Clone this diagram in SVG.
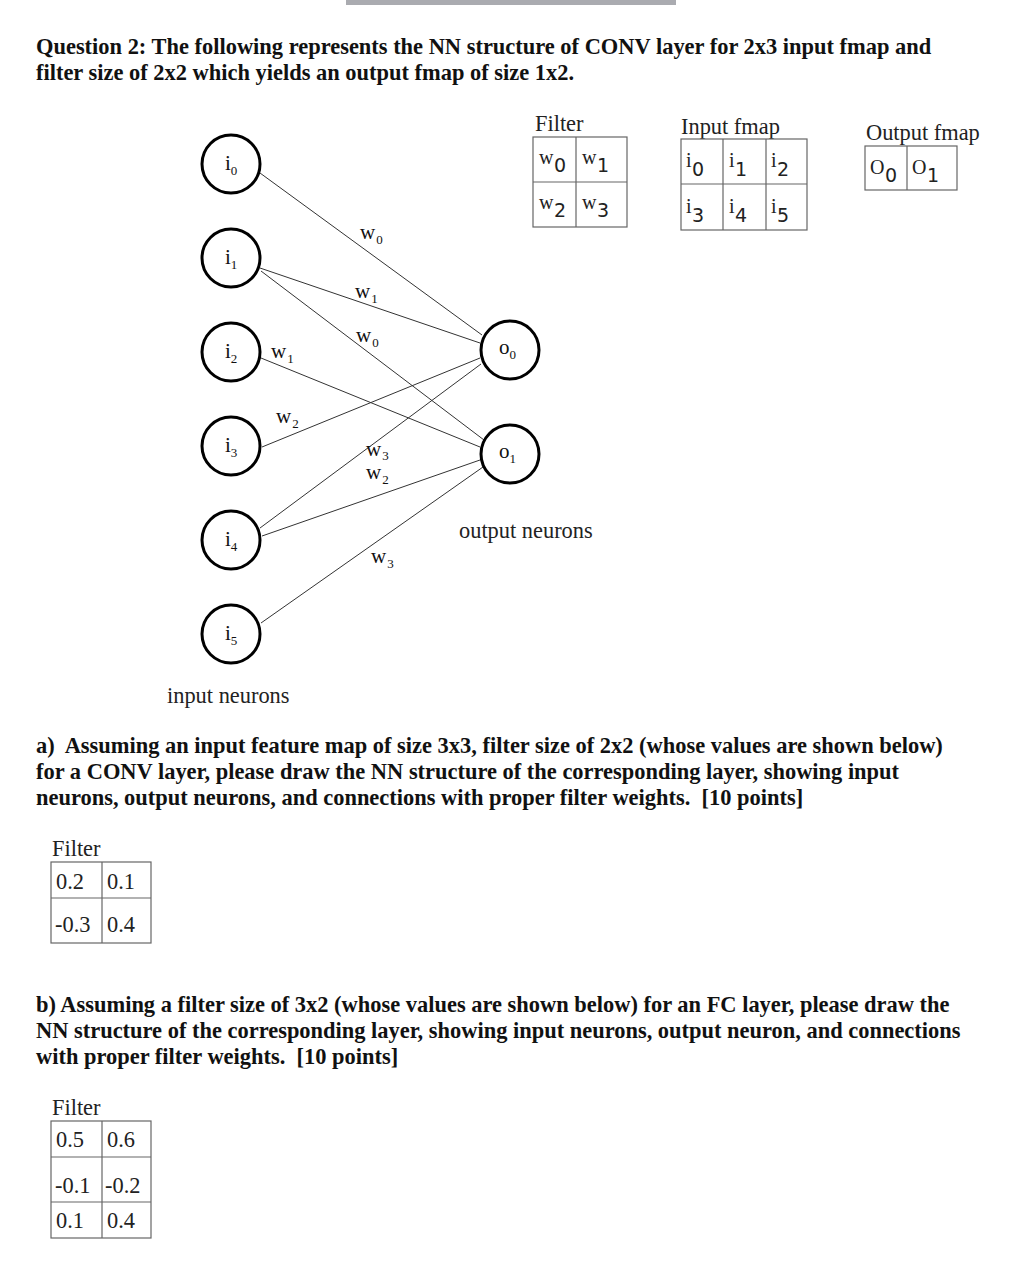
<svg xmlns="http://www.w3.org/2000/svg" width="1014" height="1283" viewBox="0 0 1014 1283">
<style>
.t{font-family:"Liberation Serif",serif;font-size:22.45px;font-weight:bold;fill:#111;white-space:pre}
.n{font-family:"Liberation Serif",serif;font-size:22.4px;fill:#222}
.lab{font-family:"Liberation Serif",serif;font-size:21px;fill:#111}
.sub{font-family:"Liberation Serif",serif;font-size:13px;fill:#111}
.cell{fill:none;stroke:#666;stroke-width:1.2}
.neuron{fill:#fff;stroke:#000;stroke-width:3}
.conn line{stroke:#333;stroke-width:1}
.tw{font-family:"Liberation Serif",serif;font-size:20px;fill:#222}
.td{font-family:"DejaVu Sans",sans-serif;font-size:19px;fill:#222}
</style>
<rect x="346" y="0" width="330" height="5" fill="#aaabb0"/>
<g id="title">
<text class="t" x="36" y="54">Question 2: The following represents the NN structure of CONV layer for 2x3 input fmap and</text>
<text class="t" x="36" y="80">filter size of 2x2 which yields an output fmap of size 1x2.</text>
</g>
<g class="conn" id="connectors">
<line x1="260" y1="173" x2="482" y2="335"/>
<line x1="260" y1="268" x2="480" y2="343"/>
<line x1="261" y1="271" x2="484" y2="440"/>
<line x1="261" y1="358" x2="480" y2="447"/>
<line x1="262" y1="447" x2="480" y2="358"/>
<line x1="260" y1="528" x2="481" y2="364"/>
<line x1="262" y1="536" x2="480" y2="460"/>
<line x1="261" y1="623" x2="483" y2="467"/>
</g>
<g id="weight-labels">
<text class="lab" x="360" y="239">w<tspan class="sub" dx="1" dy="5">0</tspan></text>
<text class="lab" x="355" y="298">w<tspan class="sub" dx="1" dy="5">1</tspan></text>
<text class="lab" x="356" y="342">w<tspan class="sub" dx="1" dy="5">0</tspan></text>
<text class="lab" x="271" y="358">w<tspan class="sub" dx="1" dy="5">1</tspan></text>
<text class="lab" x="276" y="423">w<tspan class="sub" dx="1" dy="5">2</tspan></text>
<text class="lab" x="366" y="456">w<tspan class="sub" dx="1" dy="4">3</tspan></text>
<text class="lab" x="366" y="479">w<tspan class="sub" dx="1" dy="5">2</tspan></text>
<text class="lab" x="371" y="563">w<tspan class="sub" dx="1" dy="5">3</tspan></text>
</g>
<g id="i0"><circle class="neuron" cx="231" cy="164" r="29"/><text class="lab" x="225" y="170">i<tspan class="sub" dy="5">0</tspan></text></g>
<g id="i1"><circle class="neuron" cx="231" cy="258" r="29"/><text class="lab" x="225" y="264">i<tspan class="sub" dy="5">1</tspan></text></g>
<g id="i2"><circle class="neuron" cx="231" cy="352" r="29"/><text class="lab" x="225" y="358">i<tspan class="sub" dy="5">2</tspan></text></g>
<g id="i3"><circle class="neuron" cx="231" cy="446" r="29"/><text class="lab" x="225" y="452">i<tspan class="sub" dy="5">3</tspan></text></g>
<g id="i4"><circle class="neuron" cx="231" cy="540" r="29"/><text class="lab" x="225" y="546">i<tspan class="sub" dy="5">4</tspan></text></g>
<g id="i5"><circle class="neuron" cx="231" cy="634" r="29"/><text class="lab" x="225" y="640">i<tspan class="sub" dy="5">5</tspan></text></g>
<g id="o0"><circle class="neuron" cx="510" cy="350" r="29"/><text class="lab" x="499" y="354">o<tspan class="sub" dy="5">0</tspan></text></g>
<g id="o1"><circle class="neuron" cx="510" cy="454" r="29"/><text class="lab" x="499" y="458">o<tspan class="sub" dy="5">1</tspan></text></g>
<text class="n" x="167" y="703">input neurons</text>
<text class="n" x="459" y="538">output neurons</text>
<g id="filter-table">
<text class="n" x="535" y="131">Filter</text>
<rect class="cell" x="533" y="137" width="94" height="90"/>
<line class="cell" x1="576" y1="137" x2="576" y2="227"/>
<line class="cell" x1="533" y1="182" x2="627" y2="182"/>
<text class="tw" x="539" y="164">w</text><text class="td" x="554" y="172">0</text>
<text class="tw" x="582" y="164">w</text><text class="td" x="597" y="172">1</text>
<text class="tw" x="539" y="209">w</text><text class="td" x="554" y="217">2</text>
<text class="tw" x="582" y="209">w</text><text class="td" x="597" y="217">3</text>
</g>
<g id="input-fmap">
<text class="n" x="681" y="134">Input fmap</text>
<rect class="cell" x="681" y="139" width="126" height="91"/>
<line class="cell" x1="723" y1="139" x2="723" y2="230"/>
<line class="cell" x1="766" y1="139" x2="766" y2="230"/>
<line class="cell" x1="681" y1="184" x2="807" y2="184"/>
<text class="tw" x="686" y="167">i</text><text class="td" x="692" y="176">0</text>
<text class="tw" x="729" y="167">i</text><text class="td" x="735" y="176">1</text>
<text class="tw" x="771" y="167">i</text><text class="td" x="777" y="176">2</text>
<text class="tw" x="686" y="213">i</text><text class="td" x="692" y="222">3</text>
<text class="tw" x="729" y="213">i</text><text class="td" x="735" y="222">4</text>
<text class="tw" x="771" y="213">i</text><text class="td" x="777" y="222">5</text>
</g>
<g id="output-fmap">
<text class="n" x="866" y="140">Output fmap</text>
<rect class="cell" x="865" y="146" width="92" height="44"/>
<line class="cell" x1="907" y1="146" x2="907" y2="190"/>
<text class="tw" x="870" y="174">O</text><text class="td" x="885" y="182">0</text>
<text class="tw" x="912" y="174">O</text><text class="td" x="927" y="182">1</text>
</g>
<g id="part-a">
<text class="t" x="36" y="753" xml:space="preserve">a)  Assuming an input feature map of size 3x3, filter size of 2x2 (whose values are shown below)</text>
<text class="t" x="36" y="779">for a CONV layer, please draw the NN structure of the corresponding layer, showing input</text>
<text class="t" x="36" y="805" xml:space="preserve">neurons, output neurons, and connections with proper filter weights.  [10 points]</text>
</g>
<g id="filter-a">
<text class="n" x="52" y="856">Filter</text>
<rect class="cell" x="51" y="862" width="100" height="81"/>
<line class="cell" x1="102" y1="862" x2="102" y2="943"/>
<line class="cell" x1="51" y1="898" x2="151" y2="898"/>
<text class="n" x="56" y="889">0.2</text><text class="n" x="107" y="889">0.1</text>
<text class="n" x="55" y="932">-0.3</text><text class="n" x="107" y="932">0.4</text>
</g>
<g id="part-b">
<text class="t" x="36" y="1012">b) Assuming a filter size of 3x2 (whose values are shown below) for an FC layer, please draw the</text>
<text class="t" x="36" y="1038">NN structure of the corresponding layer, showing input neurons, output neuron, and connections</text>
<text class="t" x="36" y="1064" xml:space="preserve">with proper filter weights.  [10 points]</text>
</g>
<g id="filter-b">
<text class="n" x="52" y="1115">Filter</text>
<rect class="cell" x="51" y="1121" width="100" height="117"/>
<line class="cell" x1="102" y1="1121" x2="102" y2="1238"/>
<line class="cell" x1="51" y1="1157" x2="151" y2="1157"/>
<line class="cell" x1="51" y1="1202" x2="151" y2="1202"/>
<text class="n" x="56" y="1147">0.5</text><text class="n" x="107" y="1147">0.6</text>
<text class="n" x="55" y="1193">-0.1</text><text class="n" x="105" y="1193">-0.2</text>
<text class="n" x="56" y="1228">0.1</text><text class="n" x="107" y="1228">0.4</text>
</g>
</svg>
